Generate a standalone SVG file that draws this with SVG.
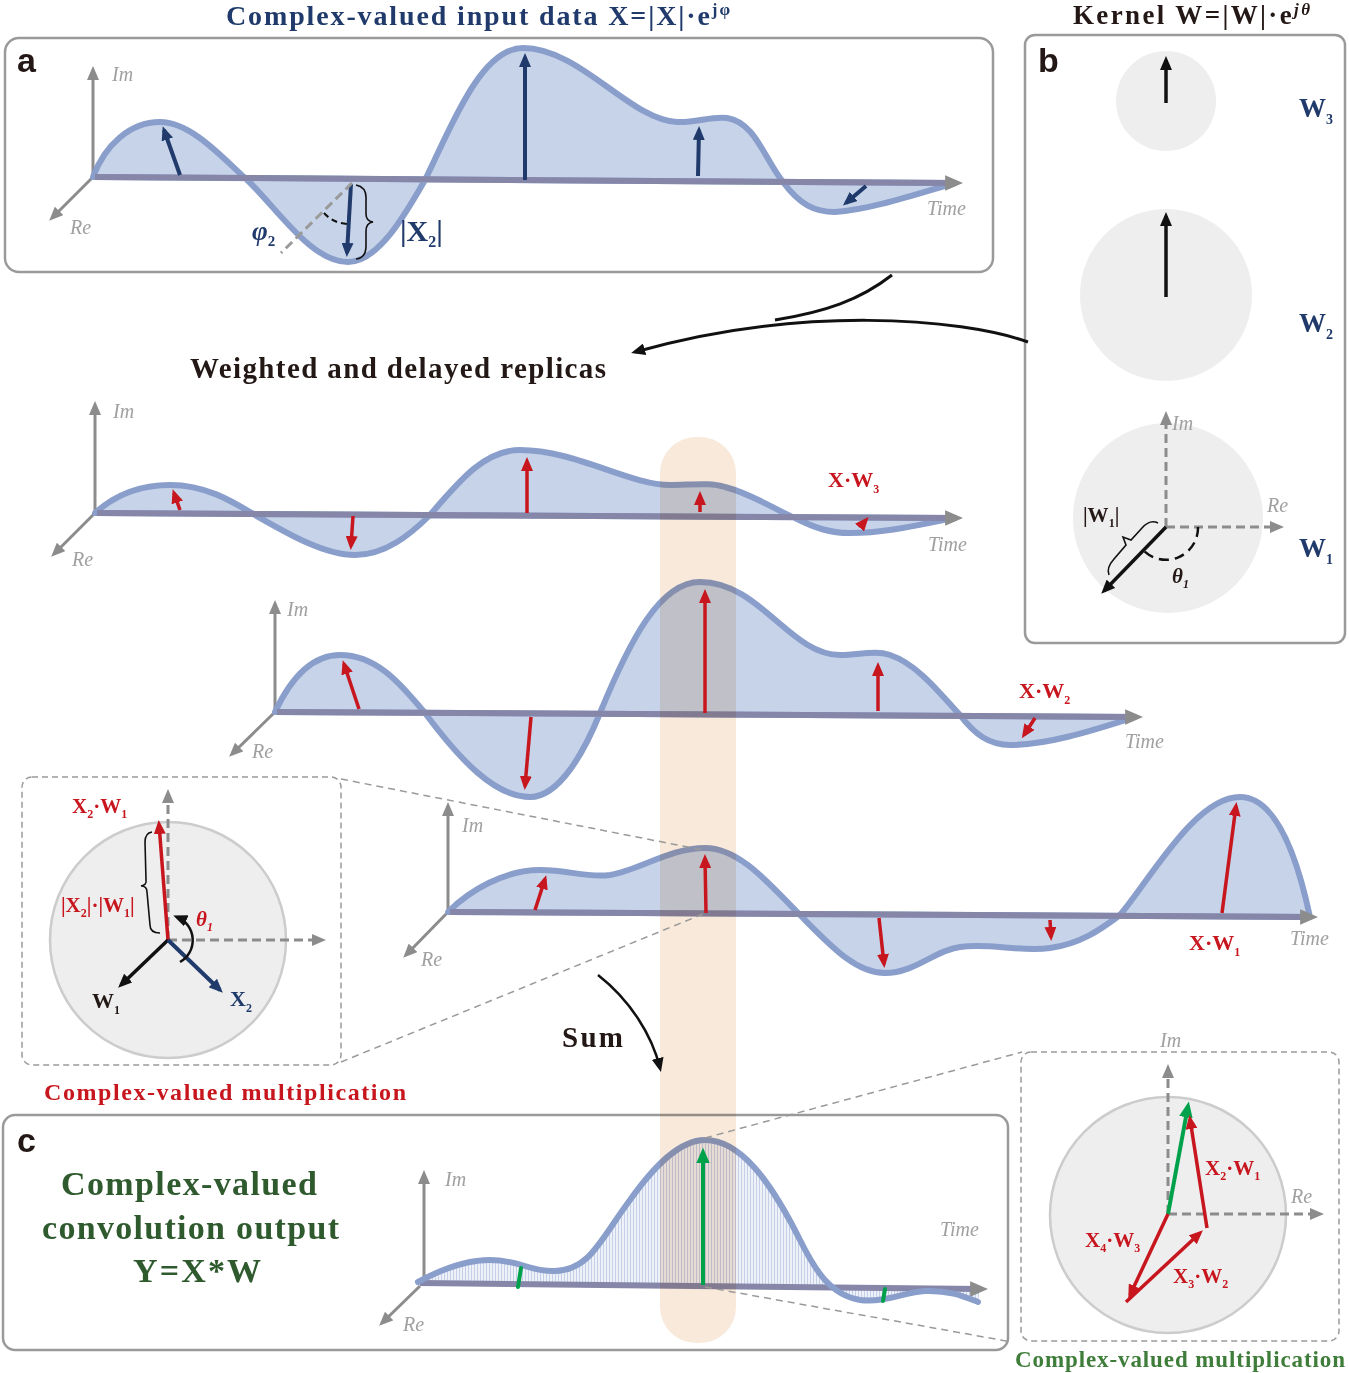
<svg xmlns="http://www.w3.org/2000/svg" width="1349" height="1373" viewBox="0 0 1349 1373">
<defs>
<style>
.panel{fill:none;stroke:#9a9a9a;stroke-width:2.5}
.inset{fill:none;stroke:#9a9a9a;stroke-width:1.5;stroke-dasharray:6 4}
.wave{fill:#c3d1e8;fill-opacity:0.95;stroke:#8a9ecb;stroke-width:6;stroke-linejoin:round;stroke-linecap:round}
.base{stroke:#8686a8;stroke-width:6;fill:none}
.axis{stroke:#8c8c8c;stroke-width:3;fill:none}
.daxis{stroke:#8c8c8c;stroke-width:3;fill:none;stroke-dasharray:9 5}
.ax{font-family:"Liberation Serif",serif;font-style:italic;font-size:20px;fill:#a0a0a0}
.navy{stroke:#1f3a6b;stroke-width:4;fill:none}
.red{stroke:#c8161e;stroke-width:3.5;fill:none}
.blk{stroke:#111;stroke-width:3.5;fill:none}
.grn{stroke:#00a14b;stroke-width:4;fill:none}
.lbl{font-family:"Liberation Serif",serif;font-weight:bold}
.plabel{font-family:"Liberation Sans",Arial,sans-serif;font-weight:bold;font-size:34px;fill:#231815}
.zl{stroke:#9a9a9a;stroke-width:1.5;stroke-dasharray:7 5;fill:none}
.disk{fill:#eeeeee}
</style>
<marker id="mNavy" markerUnits="userSpaceOnUse" viewBox="0 0 14 12" markerWidth="14" markerHeight="12" refX="10" refY="6" orient="auto"><path d="M0,0 L14,6 L0,12 z" fill="#1f3a6b"/></marker>
<marker id="mRed" markerUnits="userSpaceOnUse" viewBox="0 0 14 12" markerWidth="14" markerHeight="12" refX="10" refY="6" orient="auto"><path d="M0,0 L14,6 L0,12 z" fill="#c8161e"/></marker>
<marker id="mBlk" markerUnits="userSpaceOnUse" viewBox="0 0 14 12" markerWidth="14" markerHeight="12" refX="10" refY="6" orient="auto"><path d="M0,0 L14,6 L0,12 z" fill="#111"/></marker>
<marker id="mGrn" markerUnits="userSpaceOnUse" viewBox="0 0 14 12" markerWidth="16" markerHeight="14" refX="10" refY="6" orient="auto"><path d="M0,0 L14,6 L0,12 z" fill="#00a14b"/></marker>
<marker id="mGray" markerUnits="userSpaceOnUse" viewBox="0 0 14 12" markerWidth="14" markerHeight="12" refX="10" refY="6" orient="auto"><path d="M0,0 L14,6 L0,12 z" fill="#8c8c8c"/></marker>
<marker id="mGrayL" markerUnits="userSpaceOnUse" viewBox="0 0 14 12" markerWidth="18" markerHeight="16" refX="10" refY="6" orient="auto"><path d="M0,0 L14,6 L0,12 z" fill="#8c8c8c"/></marker>
<pattern id="hatch" width="3" height="10" patternUnits="userSpaceOnUse"><rect width="3" height="10" fill="#eef1f8"/><rect width="1" height="10" fill="#c4cfe8"/></pattern>
</defs>

<rect width="1349" height="1373" fill="#ffffff"/>

<!-- Panel a -->
<g id="panel-a">
<text x="226" y="25" class="lbl" font-size="28" fill="#1f3a6b" textLength="504" lengthAdjust="spacing">Complex-valued input data X=|X|·e<tspan font-size="17" dy="-10">jφ</tspan></text>
<rect x="5" y="38" width="988" height="234" rx="14" class="panel"/>
<text x="17" y="72" class="plabel">a</text>
<line x1="93" y1="177" x2="93" y2="70" class="axis" marker-end="url(#mGray)"/>
<line x1="93" y1="177" x2="52" y2="218" class="axis" marker-end="url(#mGray)"/>
<path class="wave" d="M93,177 C105,145 130,122 160,122 C190,122 220,155 245,178 C275,205 310,262 348,262 C378,262 405,215 425,180 C450,130 480,48 523,48 C580,48 630,120 677,122 C695,123 712,116 727,118 C755,122 765,160 783,182 C800,205 815,212 835,212 C870,210 920,193 955,183 L93,177 Z"/>
<line x1="95" y1="177" x2="955" y2="183" class="base"/>
<line x1="955" y1="183" x2="958" y2="183" class="axis" marker-end="url(#mGrayL)"/>
<text x="112" y="81" class="ax">Im</text>
<text x="70" y="234" class="ax">Re</text>
<text x="927" y="215" class="ax">Time</text>
<line x1="180" y1="175" x2="164" y2="130" class="navy" marker-end="url(#mNavy)"/>
<line x1="351" y1="184" x2="347" y2="253" class="navy" marker-end="url(#mNavy)"/>
<line x1="525" y1="180" x2="525" y2="57" class="navy" marker-end="url(#mNavy)"/>
<line x1="698" y1="176" x2="699" y2="130" class="navy" marker-end="url(#mNavy)"/>
<line x1="866" y1="186" x2="846" y2="203" class="navy" marker-end="url(#mNavy)"/>
<line x1="352" y1="183" x2="281" y2="253" stroke="#9a9a9a" stroke-width="3" stroke-dasharray="9 5"/>
<path d="M324,213 Q333,223 347,224" fill="none" stroke="#111" stroke-width="2" stroke-dasharray="6 4"/>
<path d="M356,185 Q367,187 366,200 L366,214 Q366,221 373,222 Q366,223 366,231 L366,246 Q366,258 356,259" fill="none" stroke="#111" stroke-width="1.6"/>
<text x="252" y="240" class="lbl" font-size="27" font-style="italic" fill="#1f3a6b">φ<tspan font-size="15" dy="6" font-style="normal">2</tspan></text>
<text x="400" y="241" class="lbl" font-size="30" fill="#1f3a6b">|X<tspan font-size="16" dy="6">2</tspan><tspan dy="-6">|</tspan></text>
</g>

<!-- Panel b -->
<g id="panel-b">
<text x="1073" y="24" class="lbl" font-size="27" fill="#231815" textLength="237" lengthAdjust="spacing">Kernel W=|W|·e<tspan font-size="17" dy="-9" font-style="italic">jθ</tspan></text>
<rect x="1025" y="35" width="320" height="608" rx="10" class="panel"/>
<text x="1038" y="72" class="plabel">b</text>
<circle cx="1166" cy="101" r="50" class="disk"/>
<line x1="1166" y1="103" x2="1166" y2="60" class="blk" marker-end="url(#mBlk)"/>
<text x="1299" y="117" class="lbl" font-size="27" fill="#1f3a6b">W<tspan font-size="14" dy="7">3</tspan></text>
<circle cx="1166" cy="295" r="86" class="disk"/>
<line x1="1166" y1="297" x2="1166" y2="216" class="blk" marker-end="url(#mBlk)"/>
<text x="1299" y="332" class="lbl" font-size="27" fill="#1f3a6b">W<tspan font-size="14" dy="7">2</tspan></text>
<circle cx="1168" cy="518" r="95" class="disk"/>
<line x1="1166" y1="527" x2="1166" y2="415" class="daxis" stroke-width="2.5" marker-end="url(#mGray)"/>
<line x1="1166" y1="527" x2="1280" y2="527" class="daxis" stroke-width="2.5" marker-end="url(#mGray)"/>
<text x="1172" y="430" class="ax">Im</text>
<text x="1267" y="512" class="ax">Re</text>
<line x1="1166" y1="527" x2="1104" y2="591" class="blk" marker-end="url(#mBlk)"/>
<path d="M1198,527 A32,32 0 0 1 1143,550" fill="none" stroke="#111" stroke-width="2.5" stroke-dasharray="10 6"/>
<path d="M1158,523 Q1150,519 1142,528 L1131,540 L1123,537 L1126,545 L1114,559 Q1106,568 1109,575" fill="none" stroke="#111" stroke-width="1.6"/>
<text x="1083" y="522" class="lbl" font-size="21" fill="#231815">|W<tspan font-size="12" dy="5">1</tspan><tspan dy="-5">|</tspan></text>
<text x="1172" y="583" class="lbl" font-size="21" font-style="italic" fill="#231815">θ<tspan font-size="12" dy="5">1</tspan></text>
<text x="1299" y="557" class="lbl" font-size="27" fill="#1f3a6b">W<tspan font-size="14" dy="7">1</tspan></text>
</g>

<!-- Title for replicas -->
<g id="replicas-title">
<text x="190" y="378" class="lbl" font-size="29" fill="#231815" textLength="416" lengthAdjust="spacing">Weighted and delayed replicas</text>
</g>

<!-- Replica X·W3 -->
<g id="replica-w3">
<line x1="95" y1="513" x2="95" y2="405" class="axis" marker-end="url(#mGray)"/>
<line x1="95" y1="513" x2="54" y2="554" class="axis" marker-end="url(#mGray)"/>
<path class="wave" d="M95,513 C115,495 140,485 170,485 C205,485 230,500 255,515 C290,535 325,555 355,555 C385,555 410,535 430,515 C460,480 485,450 520,450 C575,450 630,485 670,485 C690,485 710,482 725,487 C755,495 775,510 795,518 C815,528 830,533 850,533 C890,533 930,522 955,518 L95,513 Z"/>
<line x1="97" y1="513" x2="955" y2="518" class="base"/>
<line x1="955" y1="518" x2="958" y2="518" class="axis" marker-end="url(#mGrayL)"/>
<text x="113" y="418" class="ax">Im</text>
<text x="72" y="566" class="ax">Re</text>
<text x="928" y="551" class="ax">Time</text>
<text x="828" y="487" class="lbl" font-size="22" fill="#c8161e">X·W<tspan font-size="12" dy="6">3</tspan></text>
</g>

<!-- Replica X·W2 -->
<g id="replica-w2">
<line x1="275" y1="712" x2="275" y2="604" class="axis" marker-end="url(#mGray)"/>
<line x1="275" y1="712" x2="232" y2="754" class="axis" marker-end="url(#mGray)"/>
<path class="wave" d="M275,712 C290,680 310,655 340,655 C380,655 405,690 425,713 C460,760 495,797 530,797 C560,797 585,750 600,713 C630,640 660,582 700,582 C760,582 790,655 840,655 C860,655 875,650 890,655 C920,665 945,700 960,715 C975,735 990,745 1010,745 C1050,745 1100,728 1135,717 L275,712 Z"/>
<line x1="277" y1="712" x2="1135" y2="717" class="base"/>
<line x1="1135" y1="717" x2="1138" y2="717" class="axis" marker-end="url(#mGrayL)"/>
<text x="287" y="616" class="ax">Im</text>
<text x="252" y="758" class="ax">Re</text>
<text x="1125" y="748" class="ax">Time</text>
<text x="1019" y="698" class="lbl" font-size="22" fill="#c8161e">X·W<tspan font-size="12" dy="6">2</tspan></text>
</g>

<!-- Replica X·W1 -->
<g id="replica-w1">
<line x1="448" y1="912" x2="448" y2="806" class="axis" marker-end="url(#mGray)"/>
<line x1="448" y1="912" x2="406" y2="955" class="axis" marker-end="url(#mGray)"/>
<path class="wave" d="M448,912 C470,890 505,870 540,870 C570,870 585,878 610,875 C640,870 670,848 705,848 C740,848 770,885 800,915 C830,945 855,973 885,973 C915,973 935,950 960,947 C990,943 1020,952 1050,948 C1080,944 1100,930 1120,915 C1150,880 1195,797 1240,797 C1280,797 1300,870 1310,917 L448,912 Z"/>
<line x1="450" y1="912" x2="1310" y2="917" class="base"/>
<line x1="1310" y1="917" x2="1313" y2="917" class="axis" marker-end="url(#mGrayL)"/>
<text x="462" y="832" class="ax">Im</text>
<text x="421" y="966" class="ax">Re</text>
<text x="1290" y="945" class="ax">Time</text>
<text x="1189" y="950" class="lbl" font-size="22" fill="#c8161e">X·W<tspan font-size="12" dy="6">1</tspan></text>
</g>

<!-- Panel c -->
<g id="panel-c">
<rect x="3" y="1115" width="1005" height="235" rx="12" class="panel"/>
<text x="17" y="1152" class="plabel">c</text>
<text x="61" y="1195" class="lbl" font-size="34" fill="#2e5a2e" textLength="256" lengthAdjust="spacing">Complex-valued</text>
<text x="42" y="1239" class="lbl" font-size="34" fill="#2e5a2e" textLength="297" lengthAdjust="spacing">convolution output</text>
<text x="133" y="1282" class="lbl" font-size="34" fill="#2e5a2e" textLength="128" lengthAdjust="spacing">Y=X*W</text>
<line x1="424" y1="1283" x2="424" y2="1174" class="axis" marker-end="url(#mGray)"/>
<line x1="420" y1="1286" x2="382" y2="1323" class="axis" marker-end="url(#mGray)"/>
<path d="M418,1282 C440,1270 465,1260 490,1260 C520,1260 530,1272 555,1271 C590,1270 600,1240 630,1200 C655,1165 680,1140 705,1140 C740,1140 770,1180 800,1240 C815,1270 830,1295 860,1300 C885,1303 905,1292 925,1291 C950,1290 965,1297 978,1302 L980,1290 L418,1282 Z" fill="url(#hatch)" stroke="none"/>
<line x1="420" y1="1283" x2="980" y2="1289" class="base"/>
<line x1="980" y1="1289" x2="983" y2="1289" class="axis" marker-end="url(#mGrayL)"/>
<path d="M418,1282 C440,1270 465,1260 490,1260 C520,1260 530,1272 555,1271 C590,1270 600,1240 630,1200 C655,1165 680,1140 705,1140 C740,1140 770,1180 800,1240 C815,1270 830,1295 860,1300 C885,1303 905,1292 925,1291 C950,1290 965,1297 978,1302" fill="none" stroke="#8a9ecb" stroke-width="6" stroke-linecap="round"/>
<text x="445" y="1186" class="ax">Im</text>
<text x="403" y="1331" class="ax">Re</text>
<text x="940" y="1236" class="ax">Time</text>
</g>

<!-- Translucent time column (multiplied over waves, below arrows) -->
<g id="column">
<rect x="660" y="437" width="76" height="906" rx="36" fill="#f5e2cf" fill-opacity="0.75" style="mix-blend-mode:multiply"/>
</g>

<!-- Arrows of replicas and output (above the column) -->
<g id="replica-arrows">
<line x1="180" y1="510" x2="174" y2="493" class="red" marker-end="url(#mRed)"/>
<line x1="353" y1="516" x2="351" y2="546" class="red" marker-end="url(#mRed)"/>
<line x1="527" y1="513" x2="527" y2="461" class="red" marker-end="url(#mRed)"/>
<line x1="700" y1="512" x2="700" y2="495" class="red" marker-end="url(#mRed)"/>
<line x1="860" y1="527" x2="866" y2="520" class="red" marker-end="url(#mRed)"/>
<line x1="359" y1="709" x2="344" y2="664" class="red" marker-end="url(#mRed)"/>
<line x1="531" y1="717" x2="525" y2="786" class="red" marker-end="url(#mRed)"/>
<line x1="705" y1="713" x2="705" y2="593" class="red" marker-end="url(#mRed)"/>
<line x1="878" y1="711" x2="878" y2="666" class="red" marker-end="url(#mRed)"/>
<line x1="1035" y1="718" x2="1024" y2="735" class="red" marker-end="url(#mRed)"/>
<line x1="535" y1="910" x2="545" y2="879" class="red" marker-end="url(#mRed)"/>
<line x1="706" y1="913" x2="705" y2="858" class="red" marker-end="url(#mRed)"/>
<line x1="879" y1="918" x2="884" y2="964" class="red" marker-end="url(#mRed)"/>
<line x1="1050" y1="920" x2="1051" y2="937" class="red" marker-end="url(#mRed)"/>
<line x1="1222" y1="913" x2="1236" y2="806" class="red" marker-end="url(#mRed)"/>
<line x1="703" y1="1285" x2="703" y2="1152" class="grn" marker-end="url(#mGrn)"/>
<line x1="518" y1="1287" x2="521" y2="1268" stroke="#00a14b" stroke-width="4" stroke-linecap="round"/>
<line x1="883" y1="1301" x2="885" y2="1289" stroke="#00a14b" stroke-width="4" stroke-linecap="round"/>
</g>

<!-- Left inset: complex multiplication -->
<g id="inset-left">
<rect x="22" y="777" width="319" height="288" rx="10" class="inset"/>
<circle cx="168" cy="940" r="118" fill="#eeeeee" stroke="#cccccc" stroke-width="2.5"/>
<line x1="168" y1="940" x2="168" y2="793" class="daxis" stroke-width="2.5" marker-end="url(#mGray)"/>
<line x1="168" y1="940" x2="322" y2="940" class="daxis" stroke-width="2.5" marker-end="url(#mGray)"/>
<line x1="168" y1="940" x2="159" y2="824" class="red" stroke-width="4" marker-end="url(#mRed)"/>
<line x1="168" y1="940" x2="121" y2="985" class="blk" stroke-width="3" marker-end="url(#mBlk)"/>
<line x1="168" y1="940" x2="220" y2="990" class="navy" stroke-width="3.5" marker-end="url(#mNavy)"/>
<path d="M180,962 A25,25 0 0 0 177,917" fill="none" stroke="#111" stroke-width="2.5" marker-end="url(#mBlk)"/>
<path d="M160,933 Q150,933 150,925 L147,892 Q147,886 141,886 Q147,885 146,880 L145,842 Q145,833 152,832" fill="none" stroke="#111" stroke-width="1.6"/>
<text x="72" y="813" class="lbl" font-size="21" fill="#c8161e">X<tspan font-size="12" dy="5">2</tspan><tspan dy="-5">·W</tspan><tspan font-size="12" dy="5">1</tspan></text>
<text x="61" y="912" class="lbl" font-size="21" fill="#c8161e">|X<tspan font-size="12" dy="5">2</tspan><tspan dy="-5">|·|W</tspan><tspan font-size="12" dy="5">1</tspan><tspan dy="-5">|</tspan></text>
<text x="196" y="926" class="lbl" font-size="21" font-style="italic" fill="#c8161e">θ<tspan font-size="12" dy="5">1</tspan></text>
<text x="92" y="1008" class="lbl" font-size="22" fill="#231815">W<tspan font-size="12" dy="6">1</tspan></text>
<text x="230" y="1006" class="lbl" font-size="22" fill="#1f3a6b">X<tspan font-size="12" dy="6">2</tspan></text>
<text x="44" y="1100" class="lbl" font-size="24" fill="#c8161e" textLength="362" lengthAdjust="spacing">Complex-valued multiplication</text>
</g>

<!-- Right inset -->
<g id="inset-right">
<rect x="1021" y="1052" width="318" height="289" rx="10" class="inset"/>
<circle cx="1168" cy="1215" r="118" fill="#eeeeee" stroke="#cccccc" stroke-width="2.5"/>
<line x1="1168" y1="1214" x2="1168" y2="1068" class="daxis" stroke-width="2.5" marker-end="url(#mGray)"/>
<line x1="1168" y1="1214" x2="1320" y2="1214" class="daxis" stroke-width="2.5" marker-end="url(#mGray)"/>
<text x="1160" y="1047" class="ax">Im</text>
<text x="1291" y="1203" class="ax">Re</text>
<line x1="1168" y1="1214" x2="1188" y2="1106" class="grn" stroke-width="3.5" marker-end="url(#mGrn)"/>
<line x1="1168" y1="1214" x2="1130" y2="1295" class="red" marker-end="url(#mRed)"/>
<line x1="1126" y1="1302" x2="1200" y2="1233" class="red" marker-end="url(#mRed)"/>
<line x1="1207" y1="1228" x2="1190" y2="1119" class="red" marker-end="url(#mRed)"/>
<text x="1205" y="1175" class="lbl" font-size="21" fill="#c8161e">X<tspan font-size="12" dy="5">2</tspan><tspan dy="-5">·W</tspan><tspan font-size="12" dy="5">1</tspan></text>
<text x="1085" y="1247" class="lbl" font-size="21" fill="#c8161e">X<tspan font-size="12" dy="5">4</tspan><tspan dy="-5">·W</tspan><tspan font-size="12" dy="5">3</tspan></text>
<text x="1173" y="1283" class="lbl" font-size="21" fill="#c8161e">X<tspan font-size="12" dy="5">3</tspan><tspan dy="-5">·W</tspan><tspan font-size="12" dy="5">2</tspan></text>
<text x="1015" y="1367" class="lbl" font-size="23" fill="#3f7d3a" textLength="330" lengthAdjust="spacing">Complex-valued multiplication</text>
</g>

<!-- Connectors -->
<g id="connectors">
<path d="M892,275 C860,300 825,312 775,320" fill="none" stroke="#111" stroke-width="3"/>
<path d="M1028,342 C960,318 800,305 635,352" fill="none" stroke="#111" stroke-width="3" marker-end="url(#mBlk)"/>
<path d="M598,975 C630,1000 652,1035 660,1068" fill="none" stroke="#111" stroke-width="2.5" marker-end="url(#mBlk)"/>
<line x1="341" y1="779" x2="703" y2="850" class="zl"/>
<line x1="341" y1="1062" x2="703" y2="914" class="zl"/>
<line x1="705" y1="1138" x2="1022" y2="1052" class="zl"/>
<line x1="705" y1="1287" x2="1012" y2="1342" class="zl"/>
</g>

<g id="sum-label">
<text x="562" y="1047" class="lbl" font-size="29" fill="#231815" textLength="61" lengthAdjust="spacing">Sum</text>
</g>
</svg>
